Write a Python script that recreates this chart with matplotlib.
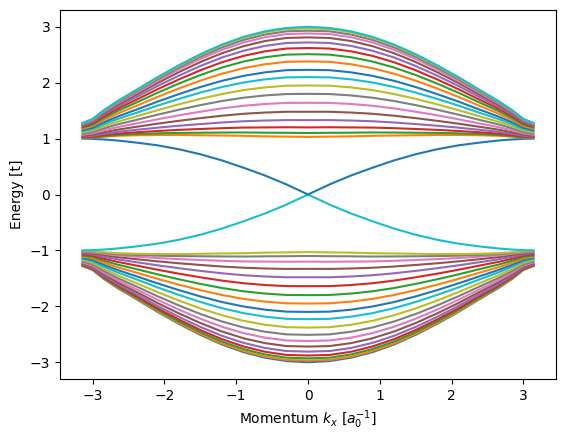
import matplotlib
matplotlib.use("Agg")
import matplotlib.pyplot as plt
import numpy as np

# momentum samples for kx >= 0 (the spectrum is even in kx)
k_half = [0.0, 0.3, 0.6, 0.9, 1.2, 1.5, 1.8, 2.1, 2.4, 2.65, 2.85, 3.0, np.pi]

# edge state (lowest positive level)
edge = [0.0, 0.18, 0.34, 0.48, 0.61, 0.72, 0.81, 0.88, 0.93, 0.965, 0.985, 0.995, 1.0]

# positive bulk bands, one row per band (bottom to top)
bulk = [
    [1.03, 1.035, 1.040, 1.050, 1.055, 1.060, 1.065, 1.065, 1.060, 1.050, 1.033, 1.016, 1.010],
    [1.10, 1.104, 1.106, 1.110, 1.108, 1.105, 1.102, 1.094, 1.081, 1.065, 1.044, 1.024, 1.016],
    [1.20, 1.203, 1.200, 1.197, 1.186, 1.172, 1.156, 1.136, 1.112, 1.089, 1.060, 1.035, 1.025],
    [1.33, 1.331, 1.323, 1.310, 1.288, 1.260, 1.230, 1.195, 1.156, 1.121, 1.084, 1.051, 1.037],
    [1.48, 1.480, 1.466, 1.444, 1.409, 1.366, 1.318, 1.266, 1.209, 1.161, 1.112, 1.071, 1.053],
    [1.64, 1.639, 1.619, 1.587, 1.540, 1.481, 1.416, 1.345, 1.269, 1.206, 1.147, 1.094, 1.071],
    [1.80, 1.797, 1.772, 1.731, 1.672, 1.599, 1.516, 1.427, 1.332, 1.255, 1.182, 1.119, 1.091],
    [1.95, 1.946, 1.916, 1.867, 1.797, 1.711, 1.613, 1.507, 1.394, 1.303, 1.218, 1.144, 1.111],
    [2.10, 2.095, 2.060, 2.003, 1.923, 1.823, 1.710, 1.588, 1.458, 1.352, 1.255, 1.171, 1.133],
    [2.23, 2.224, 2.185, 2.122, 2.033, 1.922, 1.796, 1.660, 1.514, 1.396, 1.289, 1.195, 1.152],
    [2.38, 2.373, 2.330, 2.259, 2.160, 2.037, 1.896, 1.744, 1.581, 1.449, 1.329, 1.224, 1.175],
    [2.51, 2.502, 2.455, 2.378, 2.271, 2.137, 1.984, 1.818, 1.640, 1.496, 1.364, 1.249, 1.196],
    [2.62, 2.611, 2.561, 2.479, 2.365, 2.222, 2.058, 1.881, 1.690, 1.536, 1.396, 1.273, 1.215],
    [2.72, 2.711, 2.658, 2.571, 2.450, 2.299, 2.126, 1.939, 1.737, 1.573, 1.425, 1.293, 1.232],
    [2.81, 2.800, 2.745, 2.653, 2.527, 2.369, 2.188, 1.991, 1.779, 1.607, 1.451, 1.313, 1.248],
    [2.88, 2.870, 2.813, 2.718, 2.587, 2.424, 2.236, 2.032, 1.812, 1.634, 1.472, 1.328, 1.260],
    [2.93, 2.919, 2.861, 2.764, 2.630, 2.463, 2.270, 2.061, 1.836, 1.653, 1.486, 1.339, 1.269],
    [2.97, 2.959, 2.900, 2.800, 2.665, 2.494, 2.298, 2.085, 1.855, 1.668, 1.498, 1.347, 1.276],
    [3.00, 2.979, 2.919, 2.819, 2.682, 2.510, 2.312, 2.097, 1.865, 1.676, 1.504, 1.352, 1.280],
]


def mirror(v):
    v = np.asarray(v, dtype=float)
    return np.concatenate([v[:0:-1], v])


k = np.concatenate([-np.asarray(k_half)[:0:-1], k_half])

positive = [mirror(edge)] + [mirror(b) for b in bulk]
# spectrum is symmetric: negative levels mirror the positive ones
negative = [-b for b in positive[::-1]]
bands = np.column_stack(negative + positive)

fig = plt.figure(figsize=(5.65, 4.41), dpi=100)
ax = fig.add_axes([0.1062, 0.1406, 0.8779, 0.8367])
ax.plot(k, bands)
ax.set_xlabel(r'Momentum $k_x$ [$a_0^{-1}$]')
ax.set_ylabel('Energy [t]')

fig.savefig('out.png', dpi=100)
